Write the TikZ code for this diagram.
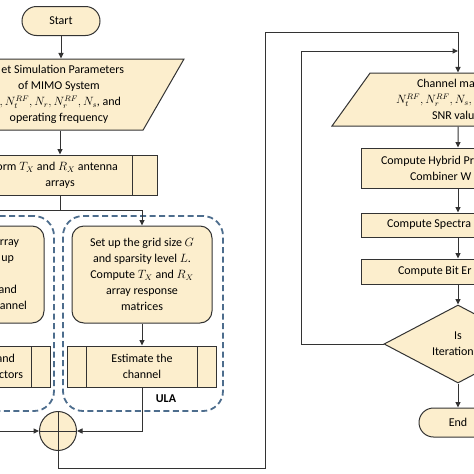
\documentclass[tikz,border=0pt]{standalone}
\usepackage{fontspec}
\setmainfont{Carlito}
\usetikzlibrary{arrows.meta,positioning,shapes.geometric,shapes.misc,calc}
\definecolor{flowfill}{HTML}{FCEECD}
\definecolor{flowline}{HTML}{333333}
\definecolor{ulaline}{HTML}{4D6D8D}
% text lines that the edge of the figure cuts off
\newcommand{\cutr}[2]{\makebox[#1][l]{#2}}
\newcommand{\cutl}[2]{\makebox[#1][r]{#2}}

\begin{document}
\begin{tikzpicture}[x=1pt, y=-1pt,
  every node/.style={font=\fontsize{12}{16}\selectfont, align=center, inner sep=0pt},
  base/.style={draw=flowline, fill=flowfill, line width=1pt},
  term/.style={base, rounded rectangle, minimum width=78pt, minimum height=29pt},
  iobox/.style 2 args={base, trapezium, trapezium stretches body, trapezium left angle=#1, trapezium right angle=#2},
  procbox/.style={base, rectangle, path picture={
      \draw[flowline, line width=1pt]
        ([xshift=#1]path picture bounding box.north west) -- ([xshift=#1]path picture bounding box.south west)
        ([xshift=-#1]path picture bounding box.north east) -- ([xshift=-#1]path picture bounding box.south east);}},
  roundbox/.style={base, rounded corners=12pt, minimum width=140pt, minimum height=97pt},
  region/.style={draw=ulaline, line width=1.8pt, dash pattern=on 6pt off 3.5pt, rounded corners=20pt, minimum width=160pt, minimum height=195pt},
  sumnode/.style={base, ellipse, minimum width=37pt, minimum height=39pt, path picture={
      \draw[flowline, line width=1pt] (path picture bounding box.north) -- (path picture bounding box.south)
        (path picture bounding box.west) -- (path picture bounding box.east);}},
  decide/.style={base, diamond, minimum width=148pt, minimum height=78pt},
  link/.style={draw=flowline, line width=1pt},
  arr/.style={link, -{Triangle[length=5.5pt, width=5pt]}}
]
  \useasboundingbox (0,0) rectangle (474,474);
  \clip (0,0) rectangle (474,474);

  % left column
  \node[term] (start) at (61,21) {Start};
  \node[iobox={55}{125}, minimum width=250pt, minimum height=71pt] (param) at (59,94.5)
    {\cutl{130pt}{et Simulation Parameters}\\ of MIMO System\\
     \cutl{124pt}{$N_t, N_t^{RF}, N_r, N_r^{RF}, N_s$, and}\\ operating frequency};
  \node[procbox=25pt, minimum width=194pt, minimum height=40pt] (form) at (60,175)
    {\cutl{116pt}{orm $T_X$ and $R_X$ antenna}\\ arrays};

  % array branches
  \node[region] (upareg) at (-26,313.5) {};
  \node[region] (ulareg) at (143,313.5) {};
  \node[roundbox] (upa) at (-26,274.5)
    {\cutl{90pt}{rray}\\ \cutl{80pt}{up}\\ ~\\ \cutl{86pt}{and}\\ \cutl{106pt}{annel}};
  \node[roundbox] (grid) at (142,274.5)
    {Set up the grid size $G$\\ and sparsity level $L$.\\ Compute $T_X$ and $R_X$\\ array response\\ matrices};
  \node[procbox=19pt, minimum width=149pt, minimum height=41pt] (upaest) at (-24,366.5)
    {\cutl{78pt}{and}\\ \cutl{94pt}{ctors}};
  \node[procbox=19pt, minimum width=149pt, minimum height=41pt] (est) at (142,366.5)
    {Estimate the\\ channel};
  \node[font=\fontsize{12}{16}\selectfont\bfseries] (ula) at (166,399) {ULA};
  \node[sumnode] (sum) at (58,431) {};

  % right column
  \node[iobox={46.7}{133.3}, minimum width=252pt, minimum height=53pt] (chan) at (458,99.5)
    {\cutr{82pt}{Channel ma}\\ \cutr{124pt}{$N_t^{RF}, N_r^{RF}, N_s, A$}\\ \cutr{52pt}{SNR valu}};
  \node[base, minimum width=194pt, minimum height=40pt] (hyb) at (458,168)
    {\cutr{154pt}{Compute Hybrid Pr}\\ \cutr{96pt}{Combiner W}};
  \node[base, minimum width=194pt, minimum height=24pt] (se) at (458,225) {\cutr{142pt}{Compute Spectra}};
  \node[base, minimum width=194pt, minimum height=25pt] (ber) at (458,271.5) {\cutr{120pt}{Compute Bit Er}};
  \node[decide] (check) at (458,344) {Is\\ \cutr{52pt}{Iteration}};
  \node[term] (stop) at (458,422.5) {End};

  % connectors
  \draw[arr] (start.south) -- (start.south |- param.north);
  \draw[arr] (form.north |- param.south) -- (form.north);
  \coordinate (split) at (60,210);
  \draw[link] (form.south) -- (split);
  \draw[arr] (split) -| (grid.north);
  \draw[arr] (split) -| (upa.north);
  \draw[arr] (grid.south) -- (est.north);
  \draw[arr] (upa.south) -- (upa.south |- upaest.north);
  \draw[arr] (est.south) |- (sum.east);
  \draw[arr] (upaest.south) |- (sum.west);
  \coordinate (outbot) at (265,468);
  \coordinate (outtop) at (265,32);
  \draw[arr] (sum.south) |- (outbot) -- (outtop) -| (chan.north);
  \coordinate (inleft) at (301,51);
  \draw[arr] (check.west) -| (inleft) -- (inleft -| chan.north);
  \draw[arr] (chan.south) -- (hyb.north);
  \draw[arr] (hyb.south) -- (se.north);
  \draw[arr] (se.south) -- (ber.north);
  \draw[arr] (ber.south) -- (check.north);
  \draw[arr] (check.south) -- (stop.north);
\end{tikzpicture}
\end{document}
